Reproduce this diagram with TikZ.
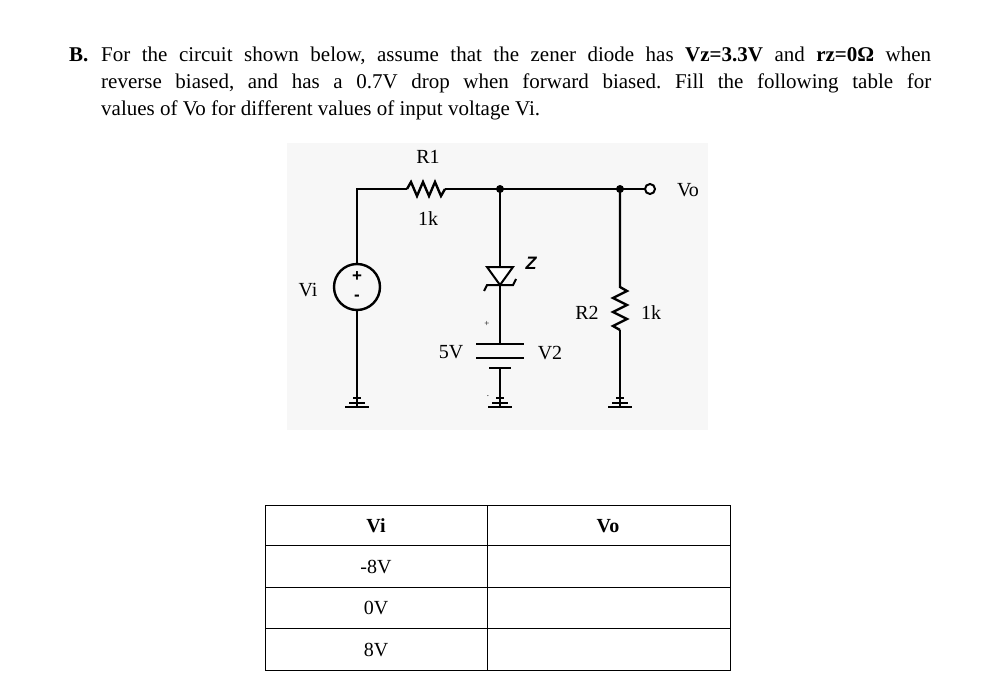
\documentclass[tikz,border=0pt]{standalone}
\usepackage{fontspec}
\setmainfont{Liberation Serif}
\newfontfamily\sansf{Liberation Sans}
\frenchspacing
\begin{document}
\begin{tikzpicture}[x=1pt,y=-1pt,line width=2.4pt,
  txt/.style={inner sep=0pt,font=\fontsize{21}{24}\selectfont},
  ctxt/.style={inner sep=0pt,font=\fontsize{20}{22}\selectfont},
  dot/.style={circle,fill,inner sep=0pt,minimum size=8pt}]
\useasboundingbox (0,0) rectangle (995,674);
% paragraph
\node[txt,anchor=base west] (b) at (68,62) {\textbf{B.}};
\node[txt,anchor=base west] (l1) at (100,62) {\makebox[830pt][s]{For the circuit shown below, assume that the zener diode has \textbf{Vz=3.3V} and \textbf{rz=0Ω} when}};
\node[txt,anchor=base west] (l2) at (100,89) {\makebox[830pt][s]{reverse biased, and has a 0.7V drop when forward biased. Fill the following table for}};
\node[txt,anchor=base west] (l3) at (100,116) {values of Vo for different values of input voltage Vi.};
% background
\fill[gray!6] (287,143) rectangle (708,430);
% coordinates
\coordinate (tl) at (357,189);
\coordinate (r1a) at (407,189);
\coordinate (j1) at (500,189);
\coordinate (j2) at (620,189);
\coordinate (vo) at (646,189);
% left branch
\node[circle,draw,minimum size=46pt,inner sep=0pt] (src) at (357,287) {};
\node[inner sep=0pt,font=\sansf\bfseries\fontsize{17}{17}\selectfont] (pl) at (357,277) {+};
\node[inner sep=0pt,font=\sansf\bfseries\fontsize{17}{17}\selectfont] (mi) at (357,298) {-};
\draw (src.north) -- (tl) -- (r1a);
\draw (r1a) -- ++(4,-7) -- ++(6,14) -- ++(6,-14) -- ++(6,14) -- ++(6,-14) -- ++(6,14) -- ++(4,-7) coordinate (r1e);
\draw (r1e) -- (j1) -- (j2) -- (vo);
\node[circle,draw,minimum size=10pt,inner sep=0pt,fill=white,line width=2pt] (voc) at (650,189) {};
\coordinate (g1) at (357,407);
\draw (src.south) -- (g1);
% zener branch
\coordinate (zt) at (500,267);
\coordinate (zb) at (500,285);
\draw (j1) -- (zt);
\draw[fill=white,line width=2pt] (487,267) -- (513,267) -- (500,285) -- cycle;
\draw[line width=2pt] (484,291) -- (487,285) -- (513,285) -- (516,279);
\draw (zb) -- (500,344);
\draw (476,344) -- (524,344);
\draw (476,358) -- (524,358);
\draw (489,368) -- (511,368);
\coordinate (g2) at (500,407);
\draw (500,368) -- (g2);
\node[inner sep=0pt,font=\fontsize{9}{9}\selectfont] (bp) at (487,324) {+};
\node[inner sep=0pt,font=\fontsize{9}{9}\selectfont] (bm) at (488,396) {.};
% R2 branch
\draw (j2) -- (620,287) -- ++(7,4) -- ++(-14,7) -- ++(14,7) -- ++(-14,7) -- ++(14,7) -- ++(-14,7) -- ++(7,4) coordinate (r2e);
\coordinate (g3) at (620,407);
\draw (r2e) -- (g3);
\node[dot] (d1) at (j1) {};
\node[dot] (d2) at (j2) {};
% grounds
\foreach \g in {g1,g2,g3}{
  \draw[line width=2pt] ([xshift=-12pt]\g) -- ([xshift=12pt]\g);
  \draw[line width=2pt] ([xshift=-8pt,yshift=4.5pt]\g) -- ([xshift=8pt,yshift=4.5pt]\g);
  \draw[line width=2pt] ([xshift=-4pt,yshift=9pt]\g) -- ([xshift=4pt,yshift=9pt]\g);
}
% labels
\node[ctxt] (R1) at (428,157) {R1};
\node[ctxt] (k1) at (428,219) {1k};
\node[ctxt] (Vo) at (688,190) {Vo};
\node[ctxt] (Vi) at (308,290) {Vi};
\node[inner sep=0pt,font=\sansf\bfseries\itshape\fontsize{18}{18}\selectfont] (Z) at (531,263) {Z};
\node[ctxt] (R2) at (587,313) {R2};
\node[ctxt] (k2) at (651,313) {1k};
\node[ctxt] (V5) at (451,352) {5V};
\node[ctxt] (V2) at (550,353) {V2};
% table
\draw[line width=1pt] (265,505) rectangle (730,670);
\draw[line width=1pt] (487,505) -- (487,670);
\foreach \yy in {545,587,628}{\draw[line width=1pt] (265,\yy) -- (730,\yy);}
\node[ctxt] (h1) at (376,526) {\textbf{Vi}};
\node[ctxt] (h2) at (608,526) {\textbf{Vo}};
\node[ctxt] (c1) at (376,567) {-8V};
\node[ctxt] (c2) at (376,608) {0V};
\node[ctxt] (c3) at (376,650) {8V};
\end{tikzpicture}
\end{document}
